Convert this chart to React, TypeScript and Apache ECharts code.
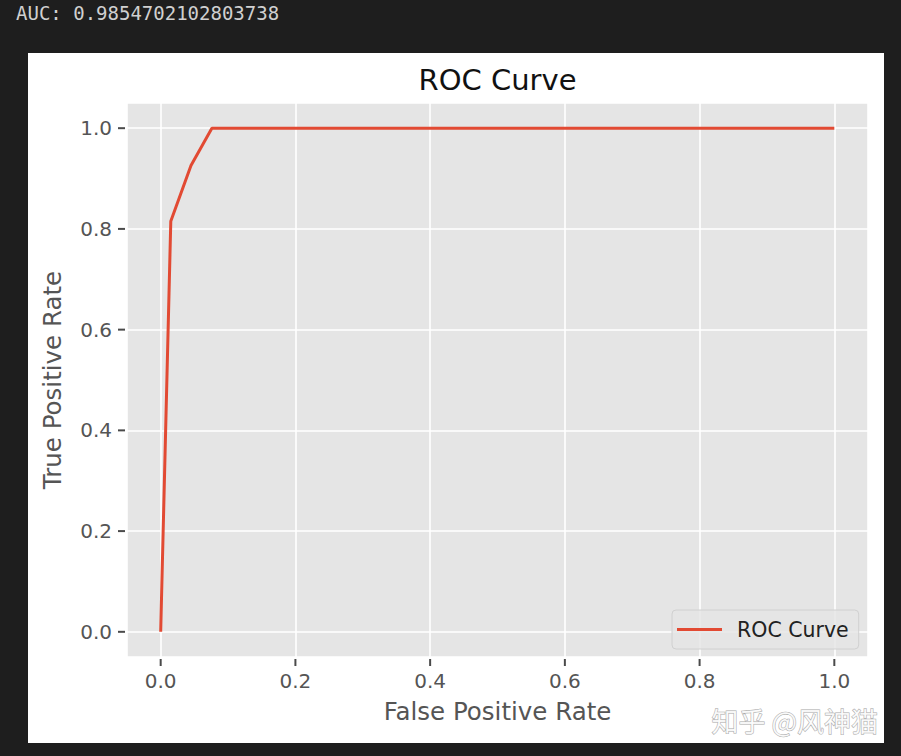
import React, { useEffect, useRef } from "react";
import * as echarts from "echarts";

const fpr = [0.0, 0.015, 0.045, 0.076, 1.0];
const tpr = [0.0, 0.815, 0.926, 1.0, 1.0];
const tickValues = [0.0, 0.2, 0.4, 0.6, 0.8, 1.0];
const axisMin = -0.05;
const axisMax = 1.05;
const seriesName = "ROC Curve";
const titleText = "ROC Curve";
const xName = "False Positive Rate";
const yName = "True Positive Rate";
const aucText = "AUC: 0.9854702102803738";
const watermark = "知乎 @风神猫";

export default function App() {
  const ref = useRef<HTMLDivElement>(null);
  useEffect(() => {
    if (!ref.current) return;
    const chart = echarts.init(ref.current, null, { renderer: "svg" });
    const font = "DejaVu Sans";
    const dark = "#1e1e1e";
    const tickColor = "#4a4a4a";
    const axisCommon = (name: string, margin: number, gap: number) => ({
      type: "value" as const,
      min: axisMin,
      max: axisMax,
      name,
      nameLocation: "middle" as const,
      nameGap: gap,
      nameTextStyle: { fontFamily: font, fontSize: 24.5, color: "#555555" },
      axisLine: { show: false, onZero: false },
      axisTick: { show: false },
      axisLabel: {
        customValues: tickValues,
        fontFamily: font,
        fontSize: 20,
        color: "#555555",
        margin,
        formatter: (v: number) => v.toFixed(1),
      },
      splitLine: { show: true, lineStyle: { color: "#ffffff", width: 1.6 } },
    });
    chart.setOption({
      animation: false,
      backgroundColor: "#ffffff",
      graphic: [
        { type: "rect", shape: { x: 0, y: 0, width: 901, height: 53 }, style: { fill: dark }, silent: true },
        { type: "rect", shape: { x: 0, y: 0, width: 28, height: 756 }, style: { fill: dark }, silent: true },
        { type: "rect", shape: { x: 884, y: 0, width: 17, height: 756 }, style: { fill: dark }, silent: true },
        { type: "rect", shape: { x: 0, y: 743, width: 901, height: 13 }, style: { fill: dark }, silent: true },
        {
          type: "text",
          x: 16,
          y: 13,
          style: { text: aucText, fontFamily: "DejaVu Sans Mono", fontSize: 19, fill: "#d0d0d0", verticalAlign: "middle" },
        },
        {
          type: "text",
          x: 497.5,
          y: 80,
          style: { text: titleText, fontFamily: font, fontSize: 29, fill: "#111111", align: "center", verticalAlign: "middle" },
        },
        {
          type: "text",
          x: 878,
          y: 720,
          z: 100,
          style: {
            text: watermark,
            fontFamily: "Noto Sans CJK SC",
            fontSize: 27,
            fill: "rgba(255,255,255,0.85)",
            stroke: "#a8a8a8",
            lineWidth: 1,
            align: "right",
            verticalAlign: "middle",
          },
        },
      ],
      grid: { left: 127, top: 103, right: 33, bottom: 99, containLabel: false, show: true, backgroundColor: "#e5e5e5", borderWidth: 0 },
      xAxis: axisCommon(xName, 14, 42),
      yAxis: axisCommon(yName, 15, 62),
      legend: {
        data: [{ name: seriesName, icon: "rect" }],
        left: 672,
        top: 610,
        orient: "vertical",
        itemWidth: 45,
        itemHeight: 3,
        itemGap: 0,
        padding: [9, 10, 9, 5],
        backgroundColor: "rgba(229,229,229,0.8)",
        borderColor: "#d0d0d0",
        borderWidth: 1,
        borderRadius: 4,
        textStyle: { fontFamily: font, fontSize: 20.5, color: "#222222", padding: [0, 0, 0, 10] },
      },
      series: [
        {
          name: seriesName,
          type: "line",
          data: fpr.map((x, i) => [x, tpr[i]]),
          symbol: "none",
          lineStyle: { color: "#E24A33", width: 3 },
          itemStyle: { color: "#E24A33" },
          z: 5,
        },
        {
          name: "xticks",
          type: "custom",
          silent: true,
          clip: false,
          z: 10,
          data: tickValues.map((v) => [v, axisMin]),
          renderItem: (_params: any, api: any) => {
            const p = api.coord([api.value(0), api.value(1)]);
            return {
              type: "line",
              shape: { x1: p[0], y1: p[1] + 2, x2: p[0], y2: p[1] + 9 },
              style: { stroke: tickColor, lineWidth: 2 },
            };
          },
        },
        {
          name: "yticks",
          type: "custom",
          silent: true,
          clip: false,
          z: 10,
          data: tickValues.map((v) => [axisMin, v]),
          renderItem: (_params: any, api: any) => {
            const p = api.coord([api.value(0), api.value(1)]);
            return {
              type: "line",
              shape: { x1: p[0] - 9, y1: p[1], x2: p[0] - 2, y2: p[1] },
              style: { stroke: tickColor, lineWidth: 2 },
            };
          },
        },
      ],
    });
    return () => chart.dispose();
  }, []);
  return <div ref={ref} style={{ position: "fixed", left: 0, top: 0, width: 901, height: 756 }} />;
}
